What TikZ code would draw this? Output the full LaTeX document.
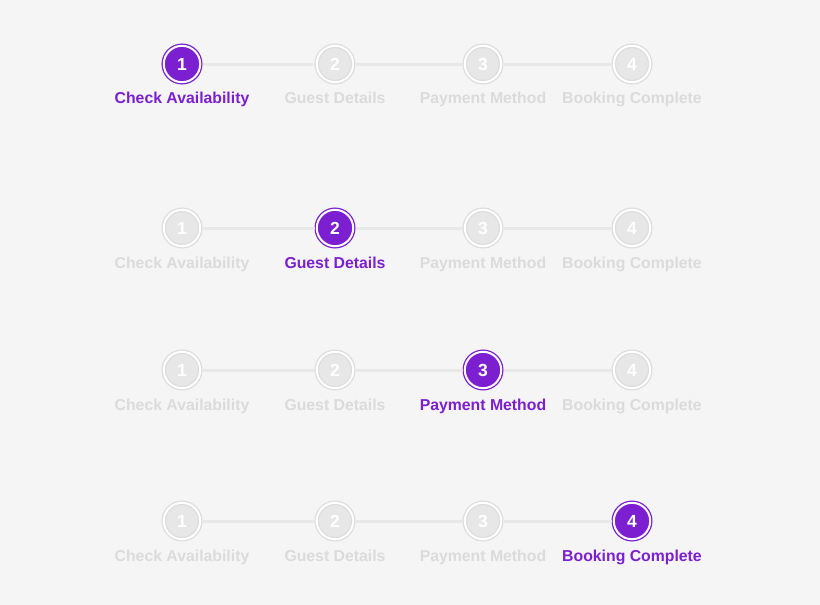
\documentclass[tikz,border=0pt]{standalone}
\usepackage{fontspec}
\setmainfont{Liberation Sans}
\usetikzlibrary{positioning}

\definecolor{stepviolet}{RGB}{123,31,208}
\definecolor{stepgray}{RGB}{231,231,231}
\definecolor{ringgray}{RGB}{221,221,221}
\definecolor{textgray}{RGB}{219,219,219}
\definecolor{trackgray}{RGB}{232,232,232}
\definecolor{pagebg}{RGB}{245,245,245}

\tikzset{
  stepoff/.style={circle, minimum size=36.4pt, inner sep=0pt, outer sep=2.3pt,
    fill=stepgray, draw=ringgray, double=white, line width=1.3pt, double distance=2pt,
    text=white, font=\fontsize{17.5}{17.5}\selectfont\bfseries},
  stepon/.style={stepoff, fill=stepviolet, draw=stepviolet},
  nameoff/.style={inner sep=0pt, text=textgray, font=\fontsize{15.8}{18}\selectfont\bfseries},
  nameon/.style={nameoff, text=stepviolet},
  track/.style={draw=trackgray, line width=3pt}
}

\begin{document}
\begin{tikzpicture}[x=1pt,y=1pt,yscale=-1]
\fill[pagebg] (0,0) rectangle (820,605);
\useasboundingbox (0,0) rectangle (820,605);

%Row 1
\node [stepon]  (a1) at (182,64) {1};
\node [stepoff] (a2) at (335,64) {2};
\node [stepoff] (a3) at (483,64) {3};
\node [stepoff] (a4) at (632,64) {4};
\draw [track] (a1) -- (a2);
\draw [track] (a2) -- (a3);
\draw [track] (a3) -- (a4);
% Text Node
\node [nameon,  below=7.5pt of a1] (la1) {Check Availability};
\node [nameoff, below=7.5pt of a2] (la2) {Guest Details};
\node [nameoff, below=7.5pt of a3] (la3) {Payment Method};
\node [nameoff, below=7.5pt of a4] (la4) {Booking Complete};

%Row 2
\node [stepoff] (b1) at (182,228) {1};
\node [stepon]  (b2) at (335,228) {2};
\node [stepoff] (b3) at (483,228) {3};
\node [stepoff] (b4) at (632,228) {4};
\draw [track] (b1) -- (b2);
\draw [track] (b2) -- (b3);
\draw [track] (b3) -- (b4);
% Text Node
\node [nameoff, below=8.5pt of b1] (lb1) {Check Availability};
\node [nameon,  below=8.5pt of b2] (lb2) {Guest Details};
\node [nameoff, below=8.5pt of b3] (lb3) {Payment Method};
\node [nameoff, below=8.5pt of b4] (lb4) {Booking Complete};

%Row 3
\node [stepoff] (c1) at (182,370) {1};
\node [stepoff] (c2) at (335,370) {2};
\node [stepon]  (c3) at (483,370) {3};
\node [stepoff] (c4) at (632,370) {4};
\draw [track] (c1) -- (c2);
\draw [track] (c2) -- (c3);
\draw [track] (c3) -- (c4);
% Text Node
\node [nameoff, below=8.5pt of c1] (lc1) {Check Availability};
\node [nameoff, below=8.5pt of c2] (lc2) {Guest Details};
\node [nameon,  below=8.5pt of c3] (lc3) {Payment Method};
\node [nameoff, below=8.5pt of c4] (lc4) {Booking Complete};

%Row 4
\node [stepoff] (d1) at (182,521) {1};
\node [stepoff] (d2) at (335,521) {2};
\node [stepoff] (d3) at (483,521) {3};
\node [stepon]  (d4) at (632,521) {4};
\draw [track] (d1) -- (d2);
\draw [track] (d2) -- (d3);
\draw [track] (d3) -- (d4);
% Text Node
\node [nameoff, below=8.5pt of d1] (ld1) {Check Availability};
\node [nameoff, below=8.5pt of d2] (ld2) {Guest Details};
\node [nameoff, below=8.5pt of d3] (ld3) {Payment Method};
\node [nameon,  below=8.5pt of d4] (ld4) {Booking Complete};

\end{tikzpicture}
\end{document}
